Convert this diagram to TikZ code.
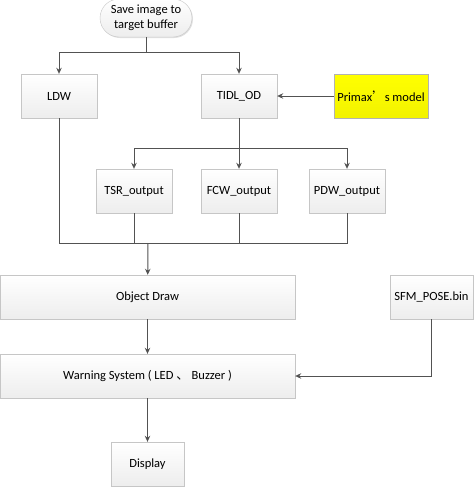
\documentclass[tikz,border=0pt]{standalone}
\usepackage{fontspec}
\setmainfont{Carlito}
\newfontfamily\cjk{Noto Sans CJK SC}
\usetikzlibrary{arrows.meta,shapes.misc,shadows}

\tikzset{
	box/.style={draw=gray!45, top color=white, bottom color=gray!14,
		drop shadow={shadow xshift=1pt, shadow yshift=-1pt, opacity=0.25},
		minimum width=76pt, minimum height=44pt, inner sep=1pt, align=center,
		font=\fontsize{12.5}{15}\selectfont},
	line/.style={draw=black!68, line width=1pt},
	arr/.style={line, -{Stealth[length=6pt,width=5.5pt]}}
}

\begin{document}
\begin{tikzpicture}[x=1pt,y=-1pt]
				\useasboundingbox (0,0) rectangle (474,488);
				% start
				\node[box, rounded rectangle, minimum width=94pt, minimum height=38pt] (S) at (146,18) {Save image to\\target buffer};
				
				% first row
				\foreach \x/\y/\t in
				{LDW/59/LDW, TIDL/239/TIDL\_OD}{
					\node[box] (\x) at (\y,96) {\t};
				}
				\node[box, draw=gray!60, top color=yellow, bottom color=yellow!95!black, minimum width=94pt] (PM) at (381,96) {Primax{\cjk ’}s model};
				
				% outputs
				\foreach \x/\y/\t in
				{TSR/134/TSR, FCW/239/FCW, PDW/347/PDW}{
					\node[box] (\x) at (\y,191) {\t\_output};
				}
				
				% lower part
				\node[box, minimum width=295pt] (OD) at (147.5,297) {Object Draw};
				\node[box, minimum width=83pt] (SFM) at (431.5,297) {SFM\_POSE.bin};
				\node[box, minimum width=295pt] (WS) at (147.5,376) {Warning System ( LED {\cjk 、} Buzzer )};
				\node[box, minimum width=73pt] (DP) at (147.5,464) {Display};
				
				% junctions
				\coordinate (J1) at (146,52);
				\coordinate (J2) at (239,148);
				\coordinate (J3) at (148,243);
				
				\draw[line] (S) -- (J1);
				\draw[line] (TIDL) -- (J2);
				\foreach \x in {LDW, TIDL}{
					\draw[arr] (J1) -| (\x);
				}
				\foreach \x in {TSR, FCW, PDW}{
					\draw[arr] (J2) -| (\x);
				}
				\foreach \x in {LDW, TSR, FCW, PDW}{
					\draw[line] (\x) |- (J3);
				}
				\draw[arr] (PM) -- (TIDL);
				\draw[arr] (J3) -- (OD);
				\draw[arr] (OD) -- (WS);
				\draw[arr] (SFM) |- (WS);
				\draw[arr] (WS) -- (DP);
			\end{tikzpicture}
\end{document}
